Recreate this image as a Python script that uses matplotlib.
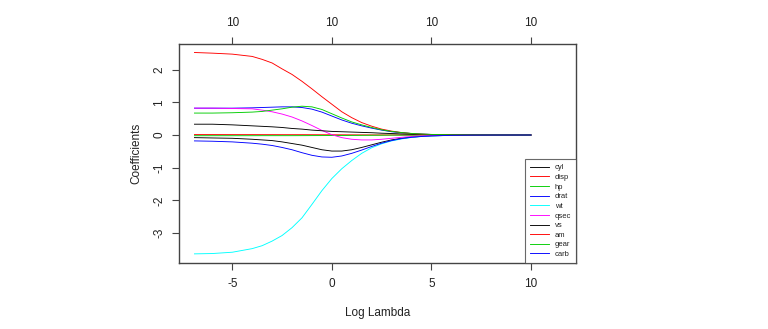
import matplotlib
matplotlib.use("Agg")
import matplotlib.pyplot as plt

plt.rcParams['font.family'] = ['Liberation Sans', 'DejaVu Sans']

log_lambda = [-6.9, -6, -5, -4, -3.5, -3, -2.5, -2, -1.5, -1, -0.5, 0, 0.5, 1,
              1.5, 2, 2.5, 3, 3.5, 4, 4.5, 5, 6, 7, 8, 10]

cyl = [-0.08, -0.09, -0.10, -0.13, -0.15, -0.17, -0.21, -0.26, -0.31, -0.38, -0.45, -0.49, -0.49,
       -0.45, -0.38, -0.30, -0.22, -0.15, -0.10, -0.065, -0.04, -0.025, -0.009, -0.003, -0.001, 0.0]
disp = [0.013, 0.013, 0.012, 0.012, 0.011, 0.011, 0.010, 0.010, 0.010, 0.009, 0.008, 0.007, 0.006,
        0.005, 0.004, 0.003, 0.002, 0.0015, 0.001, 0.0007, 0.0005, 0.0003, 0.0001, 0.0, 0.0, 0.0]
hp = [-0.021, -0.021, -0.021, -0.021, -0.020, -0.020, -0.020, -0.020, -0.019, -0.018, -0.017, -0.016,
      -0.014, -0.012, -0.010, -0.008, -0.006, -0.004, -0.003, -0.002, -0.0013, -0.0008, -0.0003,
      -0.0001, 0.0, 0.0]
drat = [0.82, 0.82, 0.82, 0.83, 0.84, 0.85, 0.86, 0.86, 0.84, 0.79, 0.70, 0.58, 0.46, 0.36, 0.28,
        0.21, 0.15, 0.10, 0.07, 0.045, 0.028, 0.017, 0.006, 0.002, 0.0008, 0.0]
wt = [-3.63, -3.62, -3.58, -3.47, -3.38, -3.24, -3.07, -2.83, -2.53, -2.12, -1.70, -1.33, -1.03,
      -0.78, -0.56, -0.39, -0.27, -0.18, -0.12, -0.075, -0.045, -0.027, -0.009, -0.003, -0.001, 0.0]
qsec = [0.82, 0.82, 0.81, 0.80, 0.76, 0.71, 0.64, 0.55, 0.43, 0.29, 0.14, 0.01, -0.08, -0.13, -0.15,
        -0.15, -0.13, -0.10, -0.07, -0.045, -0.028, -0.017, -0.006, -0.002, -0.0008, 0.0]
vs = [0.33, 0.33, 0.31, 0.28, 0.265, 0.25, 0.23, 0.20, 0.18, 0.15, 0.13, 0.11, 0.10, 0.09, 0.08,
      0.07, 0.055, 0.045, 0.033, 0.023, 0.015, 0.010, 0.004, 0.0015, 0.0005, 0.0]
am = [2.52, 2.50, 2.47, 2.40, 2.31, 2.20, 2.02, 1.85, 1.64, 1.41, 1.17, 0.94, 0.71, 0.53, 0.38,
      0.27, 0.18, 0.12, 0.075, 0.045, 0.027, 0.016, 0.005, 0.0017, 0.0005, 0.0]
gear = [0.67, 0.67, 0.68, 0.70, 0.72, 0.76, 0.80, 0.85, 0.88, 0.86, 0.78, 0.65, 0.52, 0.40, 0.31,
        0.23, 0.16, 0.11, 0.075, 0.048, 0.03, 0.018, 0.006, 0.002, 0.0008, 0.0]
carb = [-0.18, -0.19, -0.21, -0.25, -0.28, -0.32, -0.38, -0.45, -0.54, -0.62, -0.67, -0.68, -0.64,
        -0.56, -0.46, -0.35, -0.25, -0.17, -0.11, -0.07, -0.045, -0.028, -0.01, -0.003, -0.001, 0.0]

names = ["cyl", "disp", "hp", "drat", "wt", "qsec", "vs", "am", "gear", "carb"]
series = [cyl, disp, hp, drat, wt, qsec, vs, am, gear, carb]
colors = ["#000000", "#FF0000", "#00CD00", "#0000FF", "#00FFFF", "#FF00FF",
          "#000000", "#FF0000", "#00CD00", "#0000FF"]

x_ticks = [-5, 0, 5, 10]
y_ticks = [-3, -2, -1, 0, 1, 2]
top_labels = ["10", "10", "10", "10"]

fig = plt.figure(figsize=(7.68, 3.29), dpi=100)
ax = fig.add_axes([0.233, 0.2015, 0.5166, 0.6648])

for name, vals, c in zip(names, series, colors):
    ax.plot(log_lambda, vals, color=c, lw=0.65, label=name)

ax.set_xlim(-7.68, 12.25)
ax.set_ylim(-3.9, 2.78)
ax.set_xticks(x_ticks)
ax.set_xticklabels([str(t) for t in x_ticks])
ax.set_yticks(y_ticks)
ax.set_yticklabels([str(t) for t in y_ticks], rotation=90, va='center')

for sp in ax.spines.values():
    sp.set_color('#444444')
    sp.set_linewidth(1.0)

ax.tick_params(axis='x', direction='out', length=5, width=0.8, color='#444444',
               labelsize=8.5, labelcolor='#222222', pad=6)
ax.tick_params(axis='y', direction='out', length=5, width=0.8, color='#444444',
               labelsize=8.5, labelcolor='#222222', pad=5)

top = ax.secondary_xaxis('top')
top.set_xticks(x_ticks)
top.set_xticklabels(top_labels)
top.tick_params(direction='out', length=5, width=0.8, color='#444444',
                labelsize=8.5, labelcolor='#222222', pad=6)
top.spines['top'].set_visible(False)

ax.set_xlabel("Log Lambda", fontsize=8.5, color='#222222', labelpad=12)
ax.set_ylabel("Coefficients", fontsize=8.5, color='#222222', labelpad=8)

leg = ax.legend(loc='lower right', fontsize=5.5, frameon=True, fancybox=False,
                edgecolor='#444444', borderaxespad=0, handlelength=2.6,
                labelspacing=0.3, handletextpad=0.7, borderpad=0.6)
leg.get_frame().set_linewidth(0.8)
for t in leg.get_texts():
    t.set_color('#222222')

fig.savefig("out.png", dpi=100, facecolor='white')
